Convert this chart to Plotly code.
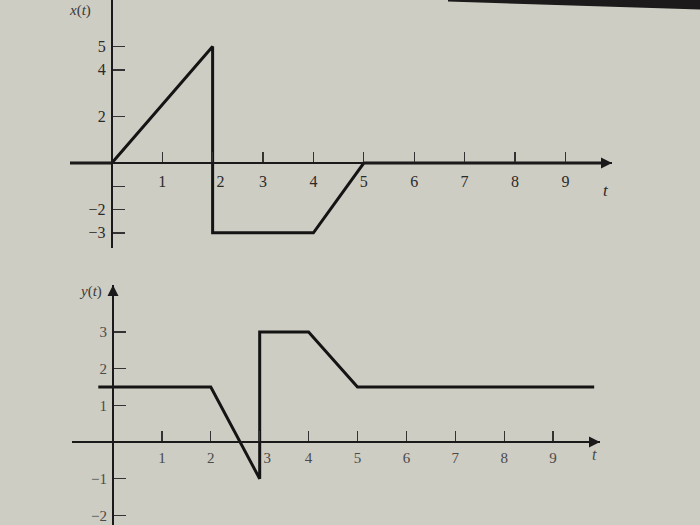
import plotly.graph_objects as go

# ---- data ----
x_t = [-0.83, 0, 2, 2, 4, 5, 9.75]
x_vals = [0, 0, 5, -3, -3, 0, 0]

y_t = [-0.3, 2, 3, 3, 4, 5, 9.84]
y_vals = [1.5, 1.5, -1, 3, 3, 1.5, 1.5]

t_ticks = [1, 2, 3, 4, 5, 6, 7, 8, 9]
x_tlabels = ["1", "\u00a0\u00a0\u00a0\u00a02", "3", "4", "5", "6", "7", "8", "9"]
y_tlabels = ["1", "2", "\u00a0\u00a0\u00a0\u00a03", "4", "5", "6", "7", "8", "9"]
x_yticks = [5, 4, 2, -1, -2, -3]
x_ylabels = ["5", "4", "2", "", "\u22122", "\u22123"]
y_yticks = [3, 2, 1, -1, -2]
y_ylabels = ["3", "2", "1", "\u22121", "\u22122"]

W, H = 700, 525
SERIF = "Liberation Serif"

# axis geometry (pixel based)
top_xdom = [70 / W, 612 / W]
top_xrange = [-0.83, 9.925]
top_ydom = [1 - 248 / H, 1.0]
top_yrange = [-3.65, 7.0]

bot_xdom = [72 / W, 600 / W]
bot_xrange = [-0.838, 9.959]
bot_ydom = [0.0, 1 - 285 / H]
bot_yrange = [-2.26, 4.28]


def frac(v, rng, dom):
    return dom[0] + (v - rng[0]) / (rng[1] - rng[0]) * (dom[1] - dom[0])


fig = go.Figure()
fig.add_trace(go.Scatter(x=x_t, y=x_vals, mode="lines", xaxis="x", yaxis="y",
                         line=dict(color="#141414", width=3), showlegend=False,
                         hoverinfo="skip"))
fig.add_trace(go.Scatter(x=y_t, y=y_vals, mode="lines", xaxis="x2", yaxis="y2",
                         line=dict(color="#141414", width=3), showlegend=False,
                         hoverinfo="skip"))

common_axis = dict(showgrid=False, zeroline=False, showline=True, linewidth=2,
                   linecolor="#1a1a1a", ticks="inside", tickwidth=1.3,
                   tickcolor="#333333", anchor="free", fixedrange=True)

fig.update_layout(
    width=W, height=H, autosize=False,
    margin=dict(l=0, r=0, t=0, b=0),
    paper_bgcolor="#cecdc3", plot_bgcolor="rgba(0,0,0,0)",
    xaxis=dict(common_axis, domain=top_xdom, range=top_xrange,
               position=frac(0, top_yrange, top_ydom),
               tickvals=t_ticks, ticktext=x_tlabels, ticklen=10,
               ticklabelstandoff=4,
               tickfont=dict(family=SERIF, size=16, color="#2a2a2a")),
    yaxis=dict(common_axis, domain=top_ydom, range=top_yrange,
               position=frac(0, top_xrange, top_xdom),
               tickvals=x_yticks, ticktext=x_ylabels, ticklen=12,
               ticklabelstandoff=2,
               tickfont=dict(family=SERIF, size=16, color="#2a2a2a")),
    xaxis2=dict(common_axis, domain=bot_xdom, range=bot_xrange,
                position=frac(0, bot_yrange, bot_ydom),
                tickvals=t_ticks, ticktext=y_tlabels, ticklen=10,
                ticklabelstandoff=2,
                tickfont=dict(family=SERIF, size=15, color="#4a4a4a")),
    yaxis2=dict(common_axis, domain=bot_ydom, range=bot_yrange,
                position=frac(0, bot_xrange, bot_xdom),
                tickvals=y_yticks, ticktext=y_ylabels, ticklen=12,
                ticklabelstandoff=2,
                tickfont=dict(family=SERIF, size=15, color="#4a4a4a")),
)

ann = []
# arrowheads on axes
ann.append(dict(x=top_xrange[1], y=0, xref="x", yref="y", ax=-14, ay=0,
                showarrow=True, arrowhead=2, arrowsize=1.1, arrowwidth=2,
                arrowcolor="#1a1a1a", text=""))
ann.append(dict(x=bot_xrange[1], y=0, xref="x2", yref="y2", ax=-14, ay=0,
                showarrow=True, arrowhead=2, arrowsize=1.1, arrowwidth=2,
                arrowcolor="#1a1a1a", text=""))
ann.append(dict(x=0, y=bot_yrange[1], xref="x2", yref="y2", ax=0, ay=14,
                showarrow=True, arrowhead=2, arrowsize=1.1, arrowwidth=2,
                arrowcolor="#1a1a1a", text=""))
ann.append(dict(x=0, y=top_yrange[1] + 0.1, xref="x", yref="y", ax=0, ay=14,
                showarrow=True, arrowhead=2, arrowsize=1.1, arrowwidth=2,
                arrowcolor="#1a1a1a", text=""))
# axis titles
ann.append(dict(x=9.8, y=-1.2, xref="x", yref="y", showarrow=False,
                text="<i>t</i>", font=dict(family=SERIF, size=17, color="#2a2a2a")))
ann.append(dict(x=9.84, y=-0.33, xref="x2", yref="y2", showarrow=False,
                text="<i>t</i>", font=dict(family=SERIF, size=16, color="#4a4a4a")))
ann.append(dict(x=-0.47, y=4.09, xref="x2", yref="y2", showarrow=False,
                text="<i>y</i>(<i>t</i>)", font=dict(family=SERIF, size=15, color="#3a3a3a")))
ann.append(dict(x=-0.63, y=1.0, xref="x", yref="paper", yanchor="top",
                showarrow=False, text="<i>x</i>(<i>t</i>)",
                font=dict(family=SERIF, size=15, color="#3a3a3a")))
fig.update_layout(annotations=ann)

# dark photo edge at top right
fig.add_shape(type="path", xref="paper", yref="paper",
              path="M 0.64 1 L 1 1 L 1 0.982 L 0.64 0.997 Z",
              fillcolor="#1c1a1a", line=dict(width=0), layer="above")

fig.write_html("out.html",
               config={"displayModeBar": False, "staticPlot": True},
               post_script="document.body.style.margin='0';"
                           "document.body.style.overflow='hidden';")
